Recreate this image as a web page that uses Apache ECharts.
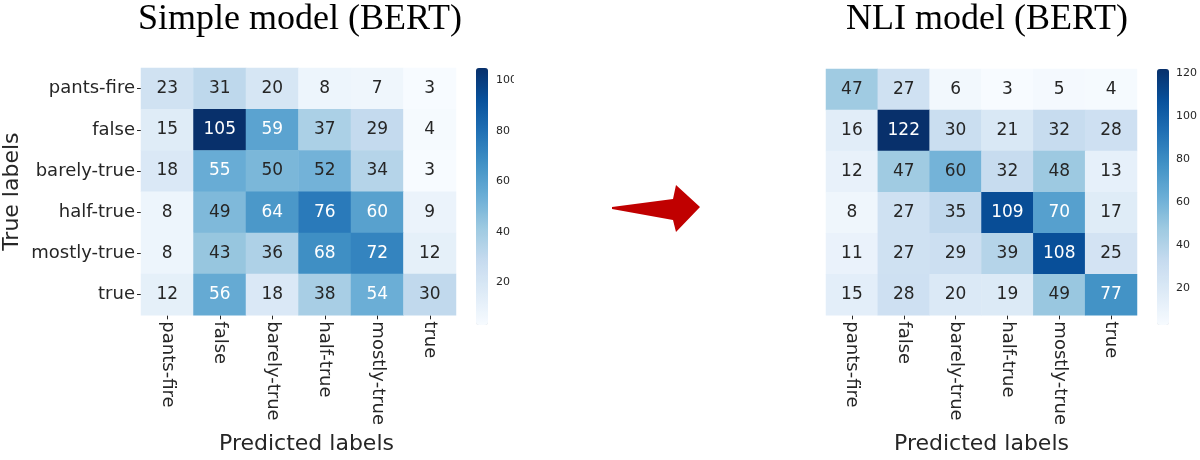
<!DOCTYPE html>
<html>
<head>
<meta charset="utf-8">
<script src="https://cdn.jsdelivr.net/npm/echarts@6/dist/echarts.min.js"></script>
<style>
  html, body { margin: 0; padding: 0; background: #fff; }
  #chart { width: 1200px; height: 460px; }
</style>
</head>
<body>
<div id="chart"></div>
<script>
  // 类别
  const labels = ['pants-fire', 'false', 'barely-true', 'half-true', 'mostly-true', 'true'];

  // 混淆矩阵 (行 = 真实标签, 列 = 预测标签)
  const simpleCounts = [
    [23, 31, 20, 8, 7, 3],
    [15, 105, 59, 37, 29, 4],
    [18, 55, 50, 52, 34, 3],
    [8, 49, 64, 76, 60, 9],
    [8, 43, 36, 68, 72, 12],
    [12, 56, 18, 38, 54, 30]
  ];
  const nliCounts = [
    [47, 27, 6, 3, 5, 4],
    [16, 122, 30, 21, 32, 28],
    [12, 47, 60, 32, 48, 13],
    [8, 27, 35, 109, 70, 17],
    [11, 27, 29, 39, 108, 25],
    [15, 28, 20, 19, 49, 77]
  ];

  // 色条刻度
  const simpleTicks = [20, 40, 60, 80, 100];
  const nliTicks = [20, 40, 60, 80, 100, 120];

  const blues = ['#f7fbff', '#deebf7', '#c6dbef', '#9ecae1', '#6baed6', '#4292c6', '#2171b5', '#08519c', '#08306b'];
  const textDark = '#262626';
  const sans = 'DejaVu Sans';

  function range(m) {
    let all = [].concat(...m);
    return [Math.min(...all), Math.max(...all)];
  }

  function toCells(m) {
    let [lo, hi] = range(m);
    let out = [];
    m.forEach((row, i) => {
      row.forEach((v, j) => {
        let light = (v - lo) / (hi - lo) > 0.49;
        out.push({ value: [j, i, v], label: { color: light ? '#ffffff' : textDark } });
      });
    });
    return out;
  }

  const simpleRange = range(simpleCounts);
  const nliRange = range(nliCounts);

  function catX(grid, name, padLeft) {
    return {
      gridIndex: grid,
      type: 'category',
      data: labels,
      name: name,
      nameLocation: 'middle',
      nameGap: 114,
      nameTextStyle: { fontFamily: sans, fontSize: 22, color: textDark, padding: [0, 0, 0, padLeft] },
      axisLine: { show: false },
      axisTick: { show: true, alignWithLabel: true, length: 4, lineStyle: { color: textDark } },
      axisLabel: { rotate: -90, fontFamily: sans, fontSize: 18, color: textDark, margin: 6 },
      splitLine: { show: false }
    };
  }

  function catY(grid, name, showLabels) {
    return {
      gridIndex: grid,
      type: 'category',
      data: labels,
      inverse: true,
      name: name,
      nameLocation: 'middle',
      nameGap: 118,
      nameTextStyle: { fontFamily: sans, fontSize: 22, color: textDark },
      axisLine: { show: false },
      axisTick: { show: showLabels, alignWithLabel: true, length: 4, lineStyle: { color: textDark } },
      axisLabel: { show: showLabels, fontFamily: sans, fontSize: 18, color: textDark, margin: 6 },
      splitLine: { show: false }
    };
  }

  function barAxis(grid, r, ticks) {
    return {
      gridIndex: grid,
      type: 'value',
      position: 'right',
      min: r[0],
      max: r[1],
      axisLine: { show: false },
      axisTick: { show: true, length: 4, customValues: ticks, lineStyle: { color: textDark } },
      axisLabel: { customValues: ticks, fontFamily: sans, fontSize: 11, color: textDark, margin: 8 },
      splitLine: { show: false }
    };
  }

  const chart = echarts.init(document.getElementById('chart'));

  chart.setOption({
    backgroundColor: '#fff',
    animation: false,
    title: [
      { text: 'Simple model (BERT)', left: 300, top: 2, textAlign: 'center', padding: 0,
        textStyle: { fontFamily: 'Liberation Serif', fontSize: 36, fontWeight: 'normal', color: '#000' } },
      { text: 'NLI model (BERT)', left: 987, top: 2, textAlign: 'center', padding: 0,
        textStyle: { fontFamily: 'Liberation Serif', fontSize: 36, fontWeight: 'normal', color: '#000' } }
    ],
    grid: [
      { left: 140, top: 68, width: 316, height: 256 },
      { left: 826, top: 69, width: 311, height: 256 },
      { left: 476, top: 68, width: 12, height: 257 },
      { left: 1157, top: 69, width: 12, height: 256 }
    ],
    xAxis: [
      catX(0, 'Predicted labels', 16),
      catX(1, 'Predicted labels', 0),
      { gridIndex: 2, type: 'value', show: false },
      { gridIndex: 3, type: 'value', show: false }
    ],
    yAxis: [
      catY(0, 'True labels', true),
      catY(1, '', false),
      barAxis(2, simpleRange, simpleTicks),
      barAxis(3, nliRange, nliTicks)
    ],
    visualMap: [
      { type: 'continuous', seriesIndex: 0, min: simpleRange[0], max: simpleRange[1],
        left: 476, top: 68, itemWidth: 12, itemHeight: 257, padding: 0,
        calculable: false, hoverLink: false, inRange: { color: blues } },
      { type: 'continuous', seriesIndex: 1, min: nliRange[0], max: nliRange[1],
        left: 1157, top: 69, itemWidth: 12, itemHeight: 256, padding: 0,
        calculable: false, hoverLink: false, inRange: { color: blues } }
    ],
    series: [
      { type: 'heatmap', xAxisIndex: 0, yAxisIndex: 0, data: toCells(simpleCounts),
        label: { show: true, fontFamily: sans, fontSize: 17 }, emphasis: { disabled: true } },
      { type: 'heatmap', xAxisIndex: 1, yAxisIndex: 1, data: toCells(nliCounts),
        label: { show: true, fontFamily: sans, fontSize: 17 }, emphasis: { disabled: true } }
    ],
    graphic: [
      // 原图左侧色条的 "100" 被裁掉一半
      { type: 'rect', z: 100, shape: { x: 514, y: 72, width: 40, height: 20 }, style: { fill: '#fff' } },
      // 红色箭头
      { type: 'polygon', z: 100,
        shape: { points: [[612, 207], [673, 199], [676, 185], [700, 207], [676, 232], [673, 220], [612, 209]] },
        style: { fill: '#c00000' } }
    ]
  });
</script>
</body>
</html>
